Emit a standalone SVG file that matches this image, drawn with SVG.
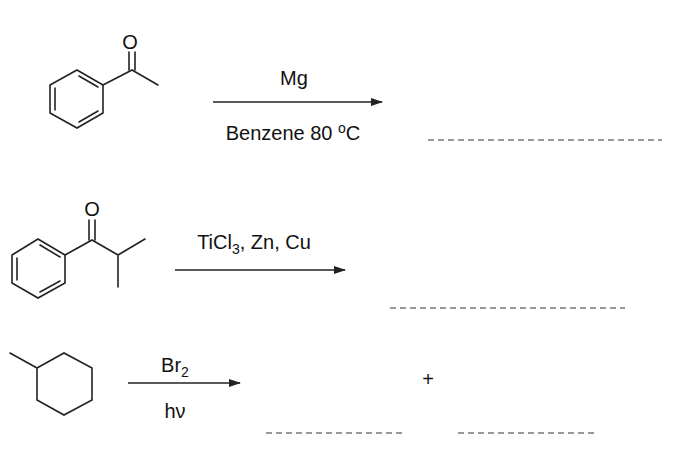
<svg xmlns="http://www.w3.org/2000/svg" width="700" height="460" viewBox="0 0 700 460">
<style>
.b{stroke:#222;stroke-width:1.6;fill:none;stroke-linecap:round}
.t{font-family:"Liberation Sans",Arial,sans-serif;font-size:20px;fill:#111}
.d{stroke:#333;stroke-width:1.2;stroke-dasharray:6,4}
.a{stroke:#222;stroke-width:1.3;marker-end:url(#ah)}
</style>
<defs><marker id="ah" markerWidth="12" markerHeight="8" refX="11" refY="4" orient="auto" markerUnits="userSpaceOnUse"><path d="M0,0 L12,4 L0,8 Z" fill="#222"/></marker></defs>
<g id="mol1">
<path class="b" d="M77,70 L103,85 L103,113 L77,128 L50,113 L50,85 Z"/>
<path class="b" d="M79,76 L98,87 M98,111 L79,122 M55,88 L55,110"/>
<path class="b" d="M103,85 L132,70 L158,85"/>
<path class="b" d="M129,70 L129,52 M135,70 L135,52"/>
<text class="t" x="130" y="49" text-anchor="middle">O</text>
</g>
<g id="mol2">
<path class="b" d="M38,239 L65,255 L65,283 L38,298 L12,283 L12,255 Z"/>
<path class="b" d="M40,245 L60,257 M60,281 L40,292 M17,258 L17,280"/>
<path class="b" d="M65,255 L92,240 L118,255 L145,239 M118,255 L118,287"/>
<path class="b" d="M89,240 L89,220 M95,240 L95,220"/>
<text class="t" x="92" y="216" text-anchor="middle">O</text>
</g>
<g id="mol3">
<path class="b" d="M37,368 L64,353 L92,368 L92,400 L64,415 L37,400 Z M37,368 L10,353"/>
</g>
<g id="connectors">
<line class="a" x1="213" y1="102" x2="382" y2="102"/>
<line class="a" x1="175" y1="270" x2="345" y2="270"/>
<line class="a" x1="128" y1="383" x2="240" y2="383"/>
</g>
<g id="labels">
<text class="t" x="294" y="85" text-anchor="middle">Mg</text>
<text class="t" x="293" y="140" text-anchor="middle">Benzene 80 <tspan font-size="14" dy="-7">o</tspan><tspan dy="7">C</tspan></text>
<text class="t" x="254" y="249" text-anchor="middle">TiCl<tspan font-size="14" dy="5">3</tspan><tspan dy="-5">, Zn, Cu</tspan></text>
<text class="t" x="175" y="372" text-anchor="middle">Br<tspan font-size="14" dy="5">2</tspan></text>
<text class="t" x="175" y="418" text-anchor="middle">hν</text>
<text class="t" x="428" y="386" text-anchor="middle" font-size="15">+</text>
</g>
<g id="blanks">
<line class="d" x1="428" y1="140" x2="662" y2="140"/>
<line class="d" x1="390" y1="308" x2="625" y2="308"/>
<line class="d" x1="266" y1="433" x2="403" y2="433"/>
<line class="d" x1="458" y1="433" x2="594" y2="433"/>
</g>
</svg>
